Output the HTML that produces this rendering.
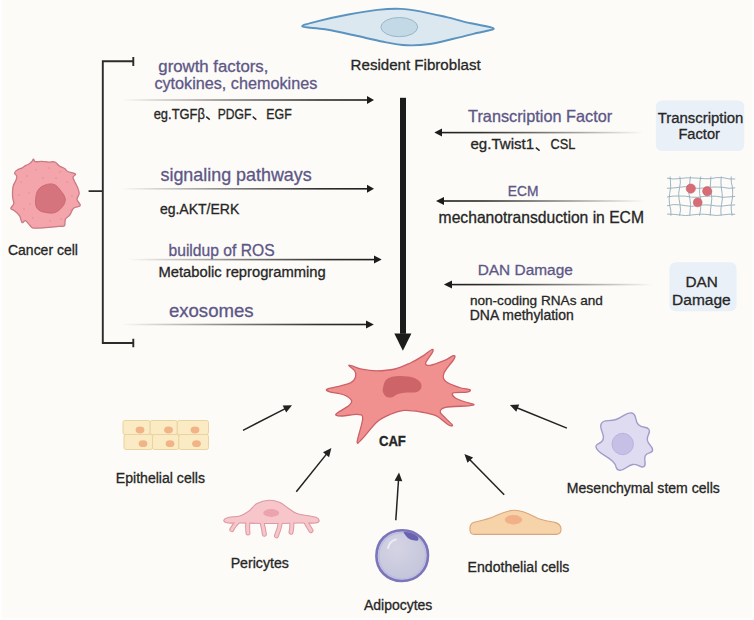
<!DOCTYPE html>
<html><head><meta charset="utf-8">
<style>
html,body{margin:0;padding:0;background:#fcfbf7;}
body{width:754px;height:620px;overflow:hidden;}
svg{display:block;}
text{font-family:"Liberation Sans",sans-serif;}
.p{fill:#5d5787;stroke:#5d5787;stroke-width:0.3;}
.k{fill:#262626;stroke:#262626;stroke-width:0.3;}
</style></head><body>
<svg width="754" height="620" viewBox="0 0 754 620">
<defs>
<linearGradient id="gL" x1="0" y1="0" x2="1" y2="0">
<stop offset="0" stop-color="#1e1e1e" stop-opacity="0"/>
<stop offset="0.45" stop-color="#1e1e1e" stop-opacity="0.55"/>
<stop offset="0.8" stop-color="#1e1e1e" stop-opacity="0.92"/>
<stop offset="1" stop-color="#1e1e1e" stop-opacity="1"/>
</linearGradient>
<linearGradient id="gR" x1="1" y1="0" x2="0" y2="0">
<stop offset="0" stop-color="#1e1e1e" stop-opacity="0"/>
<stop offset="0.45" stop-color="#1e1e1e" stop-opacity="0.55"/>
<stop offset="0.8" stop-color="#1e1e1e" stop-opacity="0.92"/>
<stop offset="1" stop-color="#1e1e1e" stop-opacity="1"/>
</linearGradient>
<filter id="soft" x="-10%" y="-10%" width="120%" height="120%"><feGaussianBlur stdDeviation="0.7"/></filter>
</defs>
<rect width="754" height="620" fill="#fcfbf7"/>

<!-- Resident fibroblast -->
<g transform="translate(0,0.7)">
<path d="M302.3,25.7 C301.3,24.3 311.5,22.2 319.2,20.2 C326.9,18.2 338.7,15.6 348.4,13.8 C358.1,12.0 368.8,10.1 377.5,9.2 C386.2,8.3 393.6,7.9 400.9,8.2 C408.2,8.5 413.5,9.5 421.3,10.9 C429.1,12.3 439.3,14.8 447.6,16.7 C455.9,18.6 463.2,20.8 470.9,22.6 C478.6,24.4 492.7,26.1 493.7,27.7 C494.7,29.3 483.5,30.6 476.8,32.3 C470.1,34.0 461.2,36.3 453.4,38.1 C445.6,39.9 437.9,42.2 430.1,43.3 C422.3,44.4 414.5,45.0 406.7,44.6 C398.9,44.2 392.1,42.8 383.4,41.1 C374.6,39.4 363.9,36.7 354.2,34.6 C344.5,32.5 333.6,30.1 325.0,28.6 C316.4,27.1 303.3,27.1 302.3,25.7 Z" fill="#dce8f0" stroke="#5a93bf" stroke-width="1.9" stroke-linejoin="round"/>
</g>
<ellipse cx="399.3" cy="27.1" rx="18.4" ry="9.6" fill="#c3d9e6" stroke="#98b8cc" stroke-width="1"/>
<text x="350.6" y="69.5" font-size="15.1" class="k">Resident Fibroblast</text>

<!-- big arrow -->
<rect x="400" y="97.8" width="6" height="236" fill="#1c1c1c"/>
<path d="M394.3,333.4 L411.4,333.4 L402.9,350.8 Z" fill="#1c1c1c"/>

<!-- bracket -->
<path d="M133.3,61.3 H102.8 V343 H133.3 M133.3,57 V66 M133.3,338.8 V347.3 M88.6,191.1 H102.8" stroke="#2b2b2b" stroke-width="1.9" fill="none"/>

<!-- cancer cell -->
<g>
<path d="M33.5,159.2 C34.1,159.2 33.9,161.3 35.3,161.7 C36.7,162.0 39.8,161.2 42.0,161.3 C44.2,161.4 46.4,162.0 48.5,162.1 C50.6,162.2 53.1,161.3 54.9,162.0 C56.7,162.7 57.8,164.9 59.4,166.0 C61.0,167.1 63.2,167.6 64.6,168.5 C66.0,169.4 66.0,170.6 67.8,171.5 C69.6,172.4 74.5,173.1 75.4,174.0 C76.3,174.9 73.1,175.8 73.0,177.2 C72.9,178.5 74.2,180.4 74.9,182.1 C75.7,183.8 76.8,185.4 77.5,187.3 C78.2,189.2 79.3,191.5 79.2,193.5 C79.1,195.5 76.8,197.5 77.0,199.5 C77.2,201.5 80.9,204.0 80.3,205.5 C79.7,207.0 75.4,206.7 73.6,208.3 C71.8,209.9 71.1,213.4 69.7,215.2 C68.3,217.0 66.3,217.3 65.4,219.1 C64.5,220.9 65.6,224.6 64.5,225.8 C63.4,227.0 61.5,226.1 58.8,226.4 C56.1,226.7 51.8,227.1 48.5,227.4 C45.2,227.7 41.7,228.0 39.0,228.1 C36.3,228.2 34.0,228.3 32.5,227.8 C31.0,227.3 31.0,226.4 29.8,225.2 C28.6,224.0 26.7,221.0 25.4,220.6 C24.1,220.2 23.0,223.4 22.0,222.6 C21.0,221.8 20.9,217.9 19.6,215.9 C18.4,213.9 16.0,211.9 14.5,210.7 C13.0,209.5 10.9,209.7 10.8,208.5 C10.7,207.3 13.5,205.3 13.8,203.6 C14.1,201.9 13.0,200.4 12.8,198.5 C12.6,196.6 12.4,194.1 12.5,192.0 C12.6,189.9 12.7,187.9 13.2,186.0 C13.7,184.1 15.1,182.4 15.7,180.8 C16.3,179.2 17.0,177.6 16.8,176.3 C16.6,175.0 14.4,174.1 14.6,173.0 C14.8,171.9 16.6,170.3 17.9,169.5 C19.2,168.7 20.9,168.6 22.2,167.9 C23.4,167.2 24.2,166.3 25.4,165.6 C26.6,164.9 28.2,164.5 29.3,163.8 C30.4,163.1 31.2,162.3 31.9,161.5 C32.6,160.7 32.9,159.2 33.5,159.2 Z" fill="#f4a5ab" stroke="#c97a82" stroke-width="1.3"/>
<path d="M65.3,199.0 C65.4,200.5 65.0,202.3 64.4,203.7 C63.8,205.1 62.7,206.4 61.7,207.6 C60.7,208.8 59.6,209.8 58.4,210.7 C57.2,211.6 55.7,212.4 54.3,212.8 C52.9,213.2 51.3,213.2 49.8,213.1 C48.3,213.0 46.9,212.7 45.4,212.4 C43.9,212.1 42.2,211.9 40.8,211.2 C39.4,210.5 37.9,209.5 37.0,208.2 C36.1,206.9 35.7,205.1 35.5,203.6 C35.3,202.1 35.6,200.5 35.7,199.0 C35.8,197.5 35.9,196.1 36.3,194.7 C36.6,193.3 37.0,191.7 37.8,190.4 C38.6,189.1 39.8,188.0 41.0,187.1 C42.2,186.2 43.7,185.5 45.2,185.0 C46.7,184.5 48.2,184.0 49.8,183.9 C51.3,183.8 53.1,184.0 54.5,184.6 C55.9,185.2 57.1,186.4 58.2,187.5 C59.3,188.6 60.0,189.8 60.9,191.0 C61.8,192.2 62.9,193.3 63.6,194.6 C64.3,195.9 65.2,197.5 65.3,199.0 Z" fill="#d6747d" stroke="#c86670" stroke-width="0.9"/>
<circle cx="21" cy="182" r="0.8" fill="#e28c94"/><circle cx="27" cy="176" r="0.8" fill="#e28c94"/><circle cx="36" cy="170" r="0.8" fill="#e28c94"/><circle cx="49" cy="168" r="0.8" fill="#e28c94"/><circle cx="60" cy="172" r="0.8" fill="#e28c94"/><circle cx="67" cy="182" r="0.8" fill="#e28c94"/><circle cx="72" cy="196" r="0.8" fill="#e28c94"/><circle cx="71" cy="210" r="0.8" fill="#e28c94"/><circle cx="61" cy="219" r="0.8" fill="#e28c94"/><circle cx="50" cy="221" r="0.8" fill="#e28c94"/><circle cx="33" cy="218" r="0.8" fill="#e28c94"/><circle cx="24" cy="209" r="0.8" fill="#e28c94"/><circle cx="19" cy="195" r="0.8" fill="#e28c94"/><circle cx="29" cy="193" r="0.8" fill="#e28c94"/><circle cx="30" cy="204" r="0.8" fill="#e28c94"/><circle cx="43" cy="178" r="0.8" fill="#e28c94"/><circle cx="56" cy="178" r="0.8" fill="#e28c94"/>
</g>
<text x="8" y="254.5" font-size="13.97" class="k">Cancer cell</text>

<!-- left arrows -->
<rect x="121" y="99.2" width="248" height="1.6" fill="url(#gL)"/>
<path d="M367,96 L374,100 L367,104 Z" fill="#1c1c1c"/>
<text x="158.3" y="71.5" font-size="16.8" class="p">growth factors,</text>
<text x="154.4" y="89" font-size="16.2" class="p">cytokines, chemokines</text>
<text x="153.7" y="119.4" font-size="13.8" class="k" textLength="51.2" lengthAdjust="spacingAndGlyphs">eg.TGFβ</text><text x="217.8" y="119.4" font-size="13.8" class="k" textLength="33.6" lengthAdjust="spacingAndGlyphs">PDGF</text><text x="266.3" y="119.4" font-size="13.8" class="k" textLength="25.4" lengthAdjust="spacingAndGlyphs">EGF</text><path d="M206.2,116.6 L209.8,119.6 M252.7,116.6 L256.3,119.6" stroke="#262626" stroke-width="1.4" fill="none"/>

<rect x="121" y="188" width="248" height="1.6" fill="url(#gL)"/>
<path d="M367,184.8 L374,188.8 L367,192.8 Z" fill="#1c1c1c"/>
<text x="160.5" y="180.9" font-size="17.9" class="p">signaling pathways</text>
<text x="159.9" y="213.8" font-size="14" class="k">eg.AKT/ERK</text>

<rect x="128" y="258.8" width="248" height="1.6" fill="url(#gL)"/>
<path d="M374,255.6 L381.7,259.6 L374,263.6 Z" fill="#1c1c1c"/>
<text x="168.5" y="255.7" font-size="15.65" class="p">buildup of ROS</text>
<text x="158.5" y="277.4" font-size="14.75" class="k">Metabolic reprogramming</text>

<rect x="121" y="323.7" width="248" height="1.6" fill="url(#gL)"/>
<path d="M366,320.5 L373.8,324.5 L366,328.5 Z" fill="#1c1c1c"/>
<text x="168.9" y="317.2" font-size="18.6" class="p">exosomes</text>

<!-- right arrows -->
<rect x="440" y="131.8" width="203" height="1.6" fill="url(#gR)"/>
<path d="M442,128.6 L434.3,132.6 L442,136.6 Z" fill="#1c1c1c"/>
<text x="468.1" y="122" font-size="16.27" class="p">Transcription Factor</text>
<text x="470.4" y="148.8" font-size="14.8" class="k" textLength="63.8" lengthAdjust="spacingAndGlyphs">eg.Twist1</text><text x="550.4" y="148.8" font-size="14.8" class="k" textLength="24.9" lengthAdjust="spacingAndGlyphs">CSL</text><path d="M535.8,147.6 L539.6,150.6" stroke="#262626" stroke-width="1.4" fill="none"/>

<rect x="442" y="200.2" width="203" height="1.6" fill="url(#gR)"/>
<path d="M444,197 L436,201 L444,205 Z" fill="#1c1c1c"/>
<text x="507.8" y="196" font-size="13.8" class="p">ECM</text>
<text x="438.6" y="222.5" font-size="15.66" class="k">mechanotransduction in ECM</text>

<rect x="450" y="283.8" width="203" height="1.6" fill="url(#gR)"/>
<path d="M452,280.6 L443.9,284.6 L452,288.6 Z" fill="#1c1c1c"/>
<text x="477.7" y="274.9" font-size="15.43" class="p">DAN Damage</text>
<text x="469.9" y="304.6" font-size="13.6" class="k">non-coding RNAs and</text>
<text x="469.8" y="320.1" font-size="13.96" class="k">DNA methylation</text>

<!-- right boxes -->
<rect x="655.8" y="100.5" width="88.5" height="50.5" rx="6" fill="#eaf0f8" filter="url(#soft)"/>
<text x="657.7" y="122.5" font-size="14.93" class="k">Transcription</text>
<text x="678.4" y="138.7" font-size="14.67" class="k">Factor</text>

<rect x="669.5" y="262.3" width="67" height="49" rx="6" fill="#eaf0f8" filter="url(#soft)"/>
<text x="701.6" y="287.3" font-size="15.3" class="k" text-anchor="middle">DAN</text>
<text x="701.4" y="304.8" font-size="15.5" class="k" text-anchor="middle">Damage</text>

<!-- ECM mesh -->
<g stroke="#6a8fa6" stroke-width="0.9" fill="none" stroke-linejoin="round" opacity="0.72">
<path d="M667.0,178.1 L673.2,179.0 L679.4,178.6 L685.6,177.9 L691.8,177.8 L698.0,178.2 L704.2,178.7 L710.4,178.7 L716.6,177.6 L722.8,177.6 L729.0,178.9 L735.2,179.0"/>
<path d="M667.0,188.3 L673.2,188.0 L679.4,187.3 L685.6,186.6 L691.8,187.5 L698.0,188.4 L704.2,187.9 L710.4,187.2 L716.6,187.0 L722.8,187.3 L729.0,188.3 L735.2,187.8"/>
<path d="M667.0,197.0 L673.2,196.1 L679.4,196.0 L685.6,196.2 L691.8,197.2 L698.0,197.3 L704.2,196.4 L710.4,196.1 L716.6,196.3 L722.8,197.3 L729.0,196.9 L735.2,196.4"/>
<path d="M667.0,205.8 L673.2,204.6 L679.4,204.8 L685.6,205.7 L691.8,206.4 L698.0,205.4 L704.2,204.9 L710.4,205.1 L716.6,206.0 L722.8,206.0 L729.0,205.2 L735.2,204.9"/>
<path d="M667.0,214.1 L673.2,214.3 L679.4,214.9 L685.6,215.6 L691.8,215.0 L698.0,214.3 L704.2,214.2 L710.4,214.8 L716.6,215.5 L722.8,214.9 L729.0,214.2 L735.2,214.3"/>
<path d="M670.1,176.5 L670.5,182.1 L670.7,187.7 L669.7,193.3 L669.2,198.9 L669.5,204.5 L670.8,210.1 L670.9,215.7"/>
<path d="M679.8,176.5 L680.4,182.1 L679.6,187.7 L678.7,193.3 L679.0,198.9 L680.0,204.5 L680.5,210.1 L679.5,215.7"/>
<path d="M690.5,176.5 L689.8,182.1 L689.4,187.7 L688.9,193.3 L689.9,198.9 L690.6,204.5 L690.2,210.1 L689.7,215.7"/>
<path d="M700.8,176.5 L699.9,182.1 L699.7,187.7 L699.6,193.3 L700.5,198.9 L700.9,204.5 L700.5,210.1 L699.5,215.7"/>
<path d="M710.9,176.5 L710.6,182.1 L710.2,187.7 L711.3,193.3 L711.8,198.9 L711.2,204.5 L710.5,210.1 L710.2,215.7"/>
<path d="M721.3,176.5 L720.9,182.1 L721.3,187.7 L722.1,193.3 L722.4,198.9 L721.5,204.5 L720.8,210.1 L721.2,215.7"/>
<path d="M731.2,176.5 L731.3,182.1 L732.5,187.7 L732.7,193.3 L732.3,198.9 L731.2,204.5 L731.3,210.1 L732.1,215.7"/>
</g>
<g fill="#d86c76" stroke="#c95e6a" stroke-width="0.6">
<circle cx="690.8" cy="188.6" r="4.6"/>
<circle cx="707.2" cy="191.2" r="4.6"/>
<circle cx="697.7" cy="202.4" r="4.4"/>
</g>

<!-- CAF -->
<path d="M326.8,389.4 C327.9,388.6 332.1,388.0 336.1,386.9 C340.1,385.8 347.4,384.5 350.6,382.9 C353.8,381.3 354.8,379.3 355.5,377.3 C356.2,375.3 355.8,372.8 354.7,370.8 C353.6,368.8 347.8,365.5 349.0,365.2 C350.2,364.9 357.3,368.3 361.9,369.2 C366.5,370.1 371.0,370.8 376.5,370.8 C382.0,370.8 389.4,370.3 395.0,369.0 C400.6,367.7 405.7,365.1 410.3,363.0 C414.9,360.9 419.0,358.4 422.6,356.1 C426.2,353.9 430.2,350.1 431.8,349.5 C433.4,348.9 433.5,350.1 432.5,352.3 C431.5,354.6 426.0,360.8 425.6,363.0 C425.2,365.2 427.1,365.7 430.2,365.3 C433.3,364.9 440.1,362.3 444.0,360.7 C447.9,359.1 451.8,355.9 453.5,355.6 C455.2,355.3 455.6,356.2 454.0,359.1 C452.4,362.0 445.4,369.2 444.0,372.9 C442.6,376.6 442.9,378.9 445.5,381.3 C448.1,383.7 455.2,386.1 459.3,387.5 C463.4,388.9 468.7,389.0 470.0,389.8 C471.3,390.6 469.8,391.6 467.0,392.1 C464.2,392.6 455.2,391.9 453.2,392.8 C451.1,393.7 452.7,395.9 454.7,397.4 C456.7,398.9 462.2,400.9 465.4,402.0 C468.6,403.1 473.4,403.7 473.9,404.3 C474.4,404.9 473.2,405.3 468.5,405.8 C463.8,406.3 450.2,406.4 445.5,407.4 C440.8,408.4 440.2,410.2 440.2,412.0 C440.2,413.8 443.5,415.9 445.5,418.1 C447.5,420.3 451.9,423.9 452.4,425.0 C452.9,426.1 451.3,426.5 448.6,425.0 C445.9,423.5 440.9,418.0 436.3,415.8 C431.7,413.6 426.4,412.9 421.0,412.0 C415.6,411.1 409.4,410.0 404.2,410.4 C399.0,410.8 394.5,412.6 390.0,414.5 C385.5,416.4 381.6,418.0 377.0,422.0 C372.4,426.0 365.8,435.2 362.5,438.5 C359.2,441.8 357.2,445.2 357.2,441.8 C357.2,438.4 362.7,423.0 362.7,418.4 C362.7,413.8 360.5,414.8 357.1,414.4 C353.8,414.0 346.1,415.9 342.6,416.0 C339.1,416.1 336.9,415.8 336.1,415.2 C335.3,414.6 335.6,414.3 337.7,412.7 C339.8,411.1 346.7,407.5 349.0,405.5 C351.3,403.5 352.3,402.4 351.5,400.6 C350.7,398.9 347.8,396.5 344.2,395.0 C340.6,393.5 332.6,392.7 329.7,391.8 C326.8,390.9 325.7,390.2 326.8,389.4 Z" fill="#f0908f" stroke="#cb6068" stroke-width="1.3"/>
<path d="M383.0,388.0 C383.4,386.1 384.0,382.4 385.5,380.5 C387.0,378.6 389.6,377.6 392.0,376.8 C394.4,376.1 397.3,376.0 400.0,376.0 C402.7,376.0 405.4,376.2 408.0,376.6 C410.6,377.0 413.4,377.4 415.5,378.5 C417.6,379.6 419.9,381.3 420.8,383.0 C421.7,384.7 421.8,386.9 421.0,388.5 C420.2,390.1 418.3,391.6 416.0,392.3 C413.7,393.0 410.0,392.3 407.0,392.6 C404.0,392.9 400.5,393.2 398.0,394.0 C395.5,394.8 394.0,396.9 392.0,397.3 C390.0,397.7 387.5,397.4 386.0,396.5 C384.5,395.6 383.5,393.4 383.0,392.0 C382.5,390.6 382.6,389.9 383.0,388.0 Z" fill="#cd6468"/>
<text x="378.9" y="445.6" font-size="14" font-weight="bold" class="k" textLength="27" lengthAdjust="spacingAndGlyphs">CAF</text>

<!-- small arrows -->
<g stroke="#222" stroke-width="1.5" fill="none">
<path d="M243,430.3 L285.3,408.6"/>
<path d="M296.3,491.7 L326.7,453.9"/>
<path d="M395.8,520.3 L398.5,480.0"/>
<path d="M504.2,494.8 L469.6,459.4"/>
<path d="M566.9,428.1 L516.8,407.7"/>
</g>
<g fill="#222">
<path d="M292,405.2 L286.2,412.5 L282.7,405.6 Z"/>
<path d="M331.4,448.1 L329.1,457.2 L323.0,452.3 Z"/>
<path d="M399,472.5 L402.3,481.2 L394.5,480.7 Z"/>
<path d="M464.4,454 L473.1,457.4 L467.5,462.8 Z"/>
<path d="M509.9,404.9 L519.2,404.5 L516.3,411.7 Z"/>
</g>

<!-- epithelial -->
<g stroke="#ead39e" stroke-width="1" fill="#fbebc4">
<rect x="123" y="420.5" width="27.2" height="14" rx="2"/>
<rect x="150.2" y="420.5" width="27.1" height="14" rx="2"/>
<rect x="177.3" y="420.5" width="31.2" height="14" rx="2"/>
<rect x="124" y="434.5" width="28.5" height="15" rx="2"/>
<rect x="152.5" y="434.5" width="26.3" height="15" rx="2"/>
<rect x="178.8" y="434.5" width="29.7" height="15" rx="2"/>
</g>
<g fill="#f1b487">
<ellipse cx="140" cy="430" rx="4.4" ry="3.4"/>
<ellipse cx="168.5" cy="430" rx="4.4" ry="3.4"/>
<ellipse cx="195" cy="430" rx="4.4" ry="3.4"/>
<ellipse cx="143" cy="443.7" rx="4.4" ry="3.4"/>
<ellipse cx="170" cy="443.7" rx="4.4" ry="3.4"/>
<ellipse cx="196.5" cy="443.7" rx="4.4" ry="3.4"/>
</g>
<text x="115.8" y="483.3" font-size="14.08" class="k">Epithelial cells</text>

<!-- pericyte -->
<path d="M238.5,521 Q234,525 231.8,529.6 M248,521 Q247.2,527 248,533 M261.7,521 Q263.5,528 264.4,534.3 M280.6,521 Q279.5,529 276.5,535.8 M291.6,521 Q292.3,527 291,532.3 M305.4,521 Q308,526 311,530.6" stroke="#dd98a1" stroke-width="5" stroke-linecap="round" fill="none"/>
<path d="M223.8,520.4 C224.0,519.4 226.3,517.9 229.0,517.2 C231.7,516.5 236.5,517.0 239.8,516.0 C243.1,515.0 246.1,513.1 249.0,511.0 C251.9,508.9 253.7,505.3 257.0,503.5 C260.3,501.7 265.2,500.4 269.0,500.2 C272.8,500.0 276.8,501.2 280.0,502.5 C283.2,503.8 285.2,506.2 288.0,508.0 C290.8,509.8 293.3,512.2 297.0,513.5 C300.7,514.8 306.8,515.4 310.0,516.0 C313.2,516.6 314.5,516.6 316.0,517.3 C317.5,518.0 319.2,519.4 319.2,520.4 C319.1,521.4 318.9,522.6 315.7,523.0 C312.5,523.4 307.8,522.9 300.0,523.0 C292.2,523.1 279.0,523.5 269.0,523.5 C259.0,523.5 246.8,523.1 240.0,523.0 C233.2,522.9 230.8,523.4 228.1,523.0 C225.4,522.6 223.7,521.4 223.8,520.4 Z" fill="#f6c6cb" stroke="#dd98a1" stroke-width="1.1"/>
<path d="M238.5,521 Q234,525 231.8,529.6 M248,521 Q247.2,527 248,533 M261.7,521 Q263.5,528 264.4,534.3 M280.6,521 Q279.5,529 276.5,535.8 M291.6,521 Q292.3,527 291,532.3 M305.4,521 Q308,526 311,530.6" stroke="#f6c6cb" stroke-width="3" stroke-linecap="round" fill="none"/>
<ellipse cx="271.2" cy="513" rx="8" ry="3.9" fill="#eca3ad"/>
<text x="230.7" y="568.4" font-size="14.15" class="k">Pericytes</text>

<!-- adipocyte -->
<defs><radialGradient id="adg" cx="0.4" cy="0.35" r="0.7"><stop offset="0" stop-color="#d4d4e4"/><stop offset="1" stop-color="#c4c4da"/></radialGradient></defs>
<path d="M402,530.2 C417,530 427.8,541 428,555 C428,570 417,581 402,581 C387,581 376.4,570 376.4,556 C376.4,541 387,530.3 402,530.2 Z" fill="url(#adg)" stroke="#7b75b9" stroke-width="2.6"/>
<path d="M402,532.6 C415.5,532.5 425.5,542.5 425.6,555 C425.6,568.5 415.5,578.6 402,578.6 C388.5,578.6 378.8,568.5 378.8,556 C378.8,542.5 388.5,532.7 402,532.6 Z" fill="none" stroke="#bcbbe4" stroke-width="1.3"/>
<path d="M403.5,532 C408,531.5 414,533 418,537 C419,539 418.5,541 416.5,540.8 C412,540.5 408,539 406,536 C405,534.5 404,533.5 403.5,532 Z" fill="#6a62b0"/>
<path d="M388,548 C389,543 392,540.5 396,539.5" stroke="#eeeef6" stroke-width="2.2" stroke-linecap="round" fill="none" opacity="0.85"/>
<text x="363.9" y="609.9" font-size="14" class="k">Adipocytes</text>

<!-- endothelial -->
<path d="M470,530 C469.5,525.5 470.5,523.3 474,522.2 C480,520.8 487,519.5 493,517 C499,514.5 506,510.3 514.7,510.2 C523,510.2 530,514.5 537,518 C543,520.7 550,521.3 555.5,522.6 C560,523.8 561,526.5 561,529.5 C561,532.5 559.5,534.4 556,534.4 L474,534.4 C471.5,534.4 470.2,532.5 470,530 Z" fill="#f7d3aa" stroke="#d9a67c" stroke-width="1.1"/>
<ellipse cx="513.5" cy="519.7" rx="8.8" ry="4.7" fill="#f1b088"/>
<text x="467.6" y="571.8" font-size="14.08" class="k">Endothelial cells</text>

<!-- MSC -->
<path d="M631.8,413.0 C637.4,414.3 634.2,420.7 638.5,424.8 C642.8,428.9 646.8,425.7 649.0,429.5 C651.2,433.3 646.4,434.8 647.3,440.0 C648.2,445.2 653.1,446.2 652.6,450.2 C652.1,454.1 647.4,451.7 645.3,455.8 C643.1,459.9 647.1,464.3 644.0,466.5 C640.9,468.7 639.0,463.6 632.9,464.5 C626.8,465.4 624.5,471.1 619.4,470.3 C614.3,469.5 618.4,466.9 612.6,461.3 C606.8,455.7 598.6,453.6 596.3,448.0 C594.0,442.4 602.0,445.1 603.3,438.9 C604.6,432.7 598.3,428.1 601.5,423.3 C604.7,418.5 608.4,422.1 616.0,419.5 C623.6,416.9 626.2,411.7 631.8,413.0 Z" fill="#dfdbf1" stroke="#a29cc9" stroke-width="1.4"/>
<circle cx="622.7" cy="444" r="10.7" fill="#c7c0e6" stroke="#b4acda" stroke-width="0.8"/>
<text x="566.8" y="493.2" font-size="14.05" class="k">Mesenchymal stem cells</text>
<rect x="752" y="0" width="2" height="620" fill="#fefefe"/>
<rect x="0" y="0" width="2" height="620" fill="#fefefe"/>
<rect x="0" y="618" width="754" height="2" fill="#fefefe"/>
</svg>
</body></html>
